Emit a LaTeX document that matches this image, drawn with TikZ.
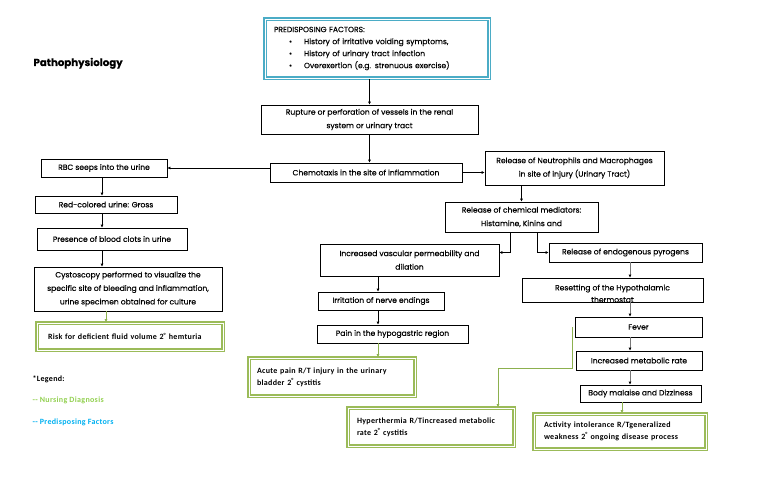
\documentclass[tikz,border=0pt]{standalone}
\usepackage{fontspec}
\setmainfont{Poppins}[FakeBold=0.25]
\newfontfamily\ndfont{Carlito}[LetterSpace=4]
\usetikzlibrary{arrows.meta,calc}
\definecolor{ndgreen}{HTML}{9BBB59}
\definecolor{ndline}{HTML}{8CB04E}
\definecolor{pfcyan}{HTML}{4BACC6}
\definecolor{lggreen}{HTML}{92D050}
\definecolor{lgblue}{HTML}{00B0F0}
\definecolor{conngray}{HTML}{777777}
\newcommand\mainsz{\fontsize{7.6}{13.5}\selectfont}
\newcommand\presz{\fontsize{7.6}{12}\selectfont}
\newcommand\ndsz{\ndfont\bfseries\fontsize{8}{12}\selectfont}
\begin{document}
\begin{tikzpicture}[x=1pt,y=-1pt,
  box/.style={draw=black,line width=0.6pt,fill=white,inner sep=1pt,align=center,font=\mainsz},
  ndbox/.style={draw=ndgreen,line width=1.8pt,double=white,double distance=0.7pt,fill=white,inner sep=0pt,align=left,font=\ndsz},
  pfbox/.style={draw=pfcyan,line width=1.8pt,double=white,double distance=0.6pt,fill=white,inner sep=0pt,align=left,font=\presz},
  arr/.style={draw=black,line width=0.6pt,-{Latex[length=3pt,width=3pt]}},
  garr/.style={draw=conngray,line width=0.6pt,-{Latex[length=3pt,width=3pt,color=black]}},
  narr/.style={draw=ndline,line width=0.6pt,-{Latex[length=3pt,width=3pt]}},
  lgtext/.style={anchor=base west,font=\ndsz}
]
\useasboundingbox (0,0) rectangle (768,503);

% title
\node[anchor=base west,font=\bfseries\fontsize{10.2}{12}\selectfont] (title) at (30,66) {Pathophysiology};

% predisposing
\node[pfbox,minimum width=224,minimum height=59,text width=206] (pre) at (377,48.5)
 {PREDISPOSING FACTORS:\\
  \hspace*{15pt}\makebox[15pt][l]{\textbullet}History of irritative voiding symptoms,\\
  \hspace*{15pt}\makebox[15pt][l]{\textbullet}History of urinary tract infection\\
  \hspace*{15pt}\makebox[15pt][l]{\textbullet}Overexertion (e.g. strenuous exercise)};

% main flow
\node[box,minimum width=217,minimum height=29] (rup) at (369.5,119.5) {Rupture or perforation of vessels in the renal\\system or urinary tract};
\node[box,minimum width=192,minimum height=19] (chem) at (366,172.5) {Chemotaxis in the site of inflammation};
\node[box,minimum width=179,minimum height=34] (neut) at (574.5,168) {Release of Neutrophils and Macrophages\\in site of injury (Urinary Tract)};
\node[box,minimum width=153,minimum height=30] (med) at (521.5,217) {Release of chemical mediators:\\Histamine, Kinins and};

% left column
\node[box,minimum width=126,minimum height=18] (rbc) at (104,168) {RBC seeps into the urine};
\node[box,minimum width=142,minimum height=17] (red) at (106,204.5) {Red-colored urine: Gross};
\node[box,minimum width=150,minimum height=22] (pres) at (112,239) {Presence of blood clots in urine};
\node[box,minimum width=188,minimum height=44] (cyst) at (128,289) {Cystoscopy performed to visualize the\\specific site of bleeding and inflammation,\\urine specimen obtained for culture};
\node[ndbox,minimum width=186,minimum height=27,text width=164] (risk) at (130,336.5) {Risk for deficient fluid volume 2\textsuperscript{°} hemturia};

% middle column
\node[box,minimum width=179,minimum height=32] (vasc) at (409.5,260) {Increased vascular permeability and\\dilation};
\node[box,minimum width=126,minimum height=18] (irr) at (381,301) {Irritation of nerve endings};
\node[box,minimum width=151,minimum height=18] (pain) at (392.5,334) {Pain in the hypogastric region};
\node[ndbox,minimum width=166,minimum height=38,text width=150] (acute) at (332,377) {Acute pain R/T injury in the urinary\\bladder 2\textsuperscript{°} cystitis};
\node[ndbox,minimum width=166,minimum height=38,text width=148] (hyper) at (431,427) {Hyperthermia R/Tincreased metabolic\\rate 2\textsuperscript{°} cystitis};

% right column
\node[box,minimum width=153,minimum height=19] (pyro) at (625.5,252.5) {Release of endogenous pyrogens};
\node[box,minimum width=181,minimum height=24] (reset) at (612.5,290) {};
\begin{scope}
  \clip (reset.south west) rectangle (reset.north east);
  \node[anchor=north,align=center,font=\fontsize{7.6}{12}\selectfont,inner sep=0pt] (resettxt) at (reset.north) {\rule{0pt}{12.5pt}Resetting of the Hypothalamic\\thermostat};
\end{scope}
\node[box,minimum width=127,minimum height=20] (fever) at (638.5,327) {Fever};
\node[box,minimum width=126,minimum height=19] (metab) at (639,360.5) {Increased metabolic rate};
\node[box,minimum width=121,minimum height=17] (body) at (640.5,393.5) {Body malaise and Dizziness};
\node[ndbox,minimum width=172,minimum height=35,text width=152] (act) at (620,431.5) {Activity intolerance R/Tgeneralized\\weakness 2\textsuperscript{°} ongoing disease process};

% legend
\node[lgtext,text=black] (lg) at (29,381) {*Legend:};
\node[lgtext,text=lggreen] (lg1) at (29,402) {-{}- Nursing Diagnosis};
\node[lgtext,text=lgblue] (lg2) at (29,424) {-{}- Predisposing Factors};

% helper x positions
\coordinate (lx) at (102,0);
\coordinate (lx2) at (106,0);
\coordinate (vx) at (378,0);
\coordinate (gx) at (630,0);
\coordinate (gx2) at (622,0);
\coordinate (m1) at ([xshift=-11.5]med.south);
\coordinate (m2) at ([xshift=15.5]med.south);
\coordinate (hx) at (498,368);
\coordinate (fv) at ([xshift=-2]fever.west);

% connectors
\draw[arr] (rup.north |- pre.south) -- (rup.north);
\draw[arr] (rup.south) -- (rup.south |- chem.north);
\draw[arr] (rbc.east -| chem.west) -- (rbc.east);
\draw[arr] (chem.east) -- (chem.east -| neut.west);
\draw[arr] (med.north |- neut.south) -- (med.north);
\draw[arr] (m1) |- (vasc.east |- pyro.west);
\draw[arr] (m2) |- (pyro.west);

\draw[arr] (rbc.south -| lx) -- (red.north -| lx);
\draw[arr] (red.south -| lx) -- (pres.north -| lx);
\draw[arr] (pres.south -| lx) -- (cyst.north -| lx);
\draw[narr] (cyst.south -| lx2) -- (risk.north -| lx2);

\draw[arr] (vasc.south -| vx) -- (irr.north -| vx);
\draw[arr] (irr.south -| vx) -- (pain.north -| vx);
\draw[narr] (pain.south -| vx) -- (acute.north -| vx);

\draw[garr] (pyro.south -| gx) -- (reset.north -| gx);
\draw[garr] (reset.south -| gx) -- (fever.north -| gx);
\draw[garr] (fever.south -| gx) -- (metab.north -| gx);
\draw[garr] (metab.south -| gx) -- (body.north -| gx);
\draw[narr] (body.south -| gx2) -- (act.north -| gx2);
\draw[narr] (fv) |- (hx) -- (hx |- hyper.north);
\end{tikzpicture}
\end{document}
